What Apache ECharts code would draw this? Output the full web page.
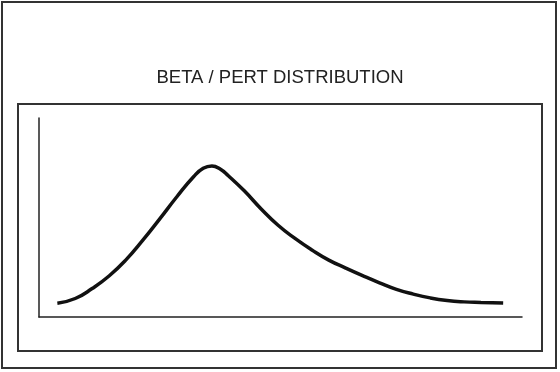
<!DOCTYPE html>
<html>
<head>
<meta charset="utf-8">
<script src="https://cdn.jsdelivr.net/npm/echarts@6/dist/echarts.min.js"></script>
<style>
html,body{margin:0;padding:0;background:#fff;}
#chart{width:560px;height:372px;}
</style>
</head>
<body>
<div id="chart"></div>
<script>
var titleText = "BETA / PERT DISTRIBUTION";
var xValues = [3.8, 7.5, 11, 14.5, 18, 21.5, 25, 28.5, 32, 34, 35.8, 37.5, 39.2, 42.5, 46, 49.5, 53, 56.5, 60, 63.5, 67, 70.5, 74, 77.5, 81, 84.5, 88, 91.5, 96.1];
var yValues = [6.9, 9.3, 14.3, 20.6, 28.7, 38.6, 49.3, 60.3, 70.5, 74.7, 75.9, 74.4, 71.0, 63.4, 54.3, 46.1, 39.5, 33.7, 28.6, 24.6, 20.8, 17.2, 13.9, 11.5, 9.6, 8.3, 7.6, 7.3, 7.0];

var chart = echarts.init(document.getElementById('chart'), null, {renderer: 'canvas'});
var pts = xValues.map(function (x, i) { return [x, yValues[i]]; });
chart.setOption({
  animation: false,
  backgroundColor: '#ffffff',
  title: {
    text: titleText,
    left: 'center',
    top: 63,
    textStyle: {fontFamily: 'Liberation Sans', fontSize: 18.5, fontWeight: 'normal', color: '#222'}
  },
  graphic: [
    {type: 'rect', shape: {x: 2, y: 2, width: 554, height: 366}, style: {fill: 'none', stroke: '#333', lineWidth: 2}, silent: true},
    {type: 'rect', shape: {x: 18, y: 104, width: 524, height: 247}, style: {fill: 'none', stroke: '#333', lineWidth: 2}, silent: true}
  ],
  grid: {left: 39, right: 38, top: 118, bottom: 55},
  xAxis: {
    type: 'value', min: 0, max: 100,
    axisLine: {show: true, lineStyle: {color: '#222', width: 1.5}},
    axisTick: {show: false}, axisLabel: {show: false}, splitLine: {show: false}
  },
  yAxis: {
    type: 'value', min: 0, max: 100,
    axisLine: {show: true, lineStyle: {color: '#222', width: 1.5}},
    axisTick: {show: false}, axisLabel: {show: false}, splitLine: {show: false}
  },
  series: [{
    type: 'line',
    data: pts,
    smooth: 0.5,
    showSymbol: false,
    lineStyle: {color: '#111', width: 3.5}
  }]
});
</script>
</body>
</html>
